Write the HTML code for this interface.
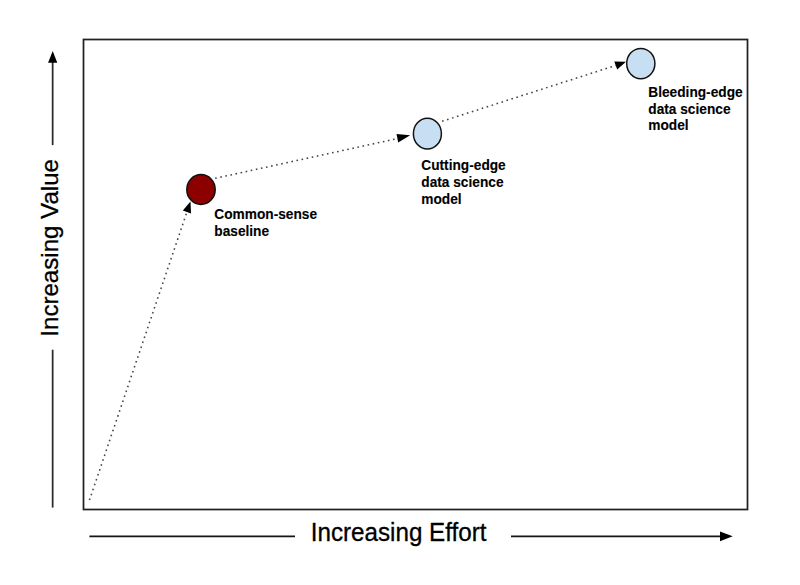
<!DOCTYPE html>
<html>
<head>
<meta charset="utf-8">
<style>
html,body{margin:0;padding:0;background:#fff;}
body{width:800px;height:585px;overflow:hidden;position:relative;}
svg{position:absolute;left:0;top:0;}
text{font-family:"Liberation Sans",sans-serif;fill:#000;}
.lbl{font-weight:bold;font-size:13.7px;stroke:#000;stroke-width:0.12px;}
.ax{font-size:24.2px;stroke:#000;stroke-width:0.3px;}
</style>
</head>
<body>
<svg width="800" height="585" viewBox="0 0 800 585">
  <!-- frame -->
  <rect x="83.5" y="39.5" width="664" height="470" fill="none" stroke="#222" stroke-width="1.75"/>

  <!-- vertical axis -->
  <line x1="52.65" y1="62" x2="52.65" y2="145.1" stroke="#2a2a2a" stroke-width="1.75"/>
  <line x1="52.65" y1="349.7" x2="52.65" y2="507.6" stroke="#2a2a2a" stroke-width="1.75"/>
  <polygon points="52.7,51 57.3,62.8 48.1,62.8" fill="#000"/>
  <text class="ax" style="font-size:24.1px" transform="translate(58.4,247.9) rotate(-90) scale(1,1.02)" text-anchor="middle">Increasing Value</text>

  <!-- horizontal axis -->
  <line x1="89.4" y1="536.4" x2="295" y2="536.4" stroke="#151515" stroke-width="1.75"/>
  <line x1="511" y1="536.4" x2="721" y2="536.4" stroke="#151515" stroke-width="1.75"/>
  <polygon points="732.7,536.35 720,531.5 720,541.2" fill="#000"/>
  <text class="ax" transform="translate(310.8,540.6) scale(1,1.03)">Increasing Effort</text>

  <!-- dotted connectors -->
  <g stroke="#444" stroke-width="1.55" fill="none">
    <line x1="89.46" y1="500.1" x2="186.9" y2="212" stroke-dasharray="1.6 3.583"/>
    <line x1="215.17" y1="178.31" x2="397.3" y2="138.6" stroke-dasharray="1.6 3.6"/>
    <line x1="442.1" y1="121.3" x2="615.75" y2="65.45" stroke-dasharray="1.6 3.6"/>
  </g>
  <polygon points="190.5,201.4 182.8,210.5 191.0,213.6" fill="#000"/>
  <polygon points="410.2,135.3 396.5,133.9 398.2,142.5" fill="#000"/>
  <polygon points="626,61.8 614.3,61.4 617.2,69.5" fill="#000"/>

  <!-- nodes -->
  <ellipse cx="201" cy="189.5" rx="14.2" ry="15" fill="rgb(140,0,0)" stroke="#111" stroke-width="1.5"/>
  <ellipse cx="427.4" cy="133.7" rx="14" ry="15.4" fill="rgb(200,222,242)" stroke="#111" stroke-width="1.5"/>
  <ellipse cx="640.8" cy="63.6" rx="14.1" ry="15.2" fill="rgb(200,222,242)" stroke="#111" stroke-width="1.5"/>

  <!-- labels -->
  <text class="lbl" transform="translate(214.3,218.7) scale(1,1.11)">Common-sense</text>
  <text class="lbl" transform="translate(214.3,235.6) scale(1,1.08)">baseline</text>
  <text class="lbl" transform="translate(421.3,169.7) scale(1,1.08)">Cutting-edge</text>
  <text class="lbl" transform="translate(421.3,186.6) scale(1,1.08)">data science</text>
  <text class="lbl" transform="translate(421.3,203.6) scale(1,1.08)">model</text>
  <text class="lbl" transform="translate(648.3,96.5) scale(1,1.08)">Bleeding-edge</text>
  <text class="lbl" transform="translate(648.3,114.1) scale(1,1.08)">data science</text>
  <text class="lbl" transform="translate(648.3,129.8) scale(1,1.08)">model</text>
</svg>
</body>
</html>
